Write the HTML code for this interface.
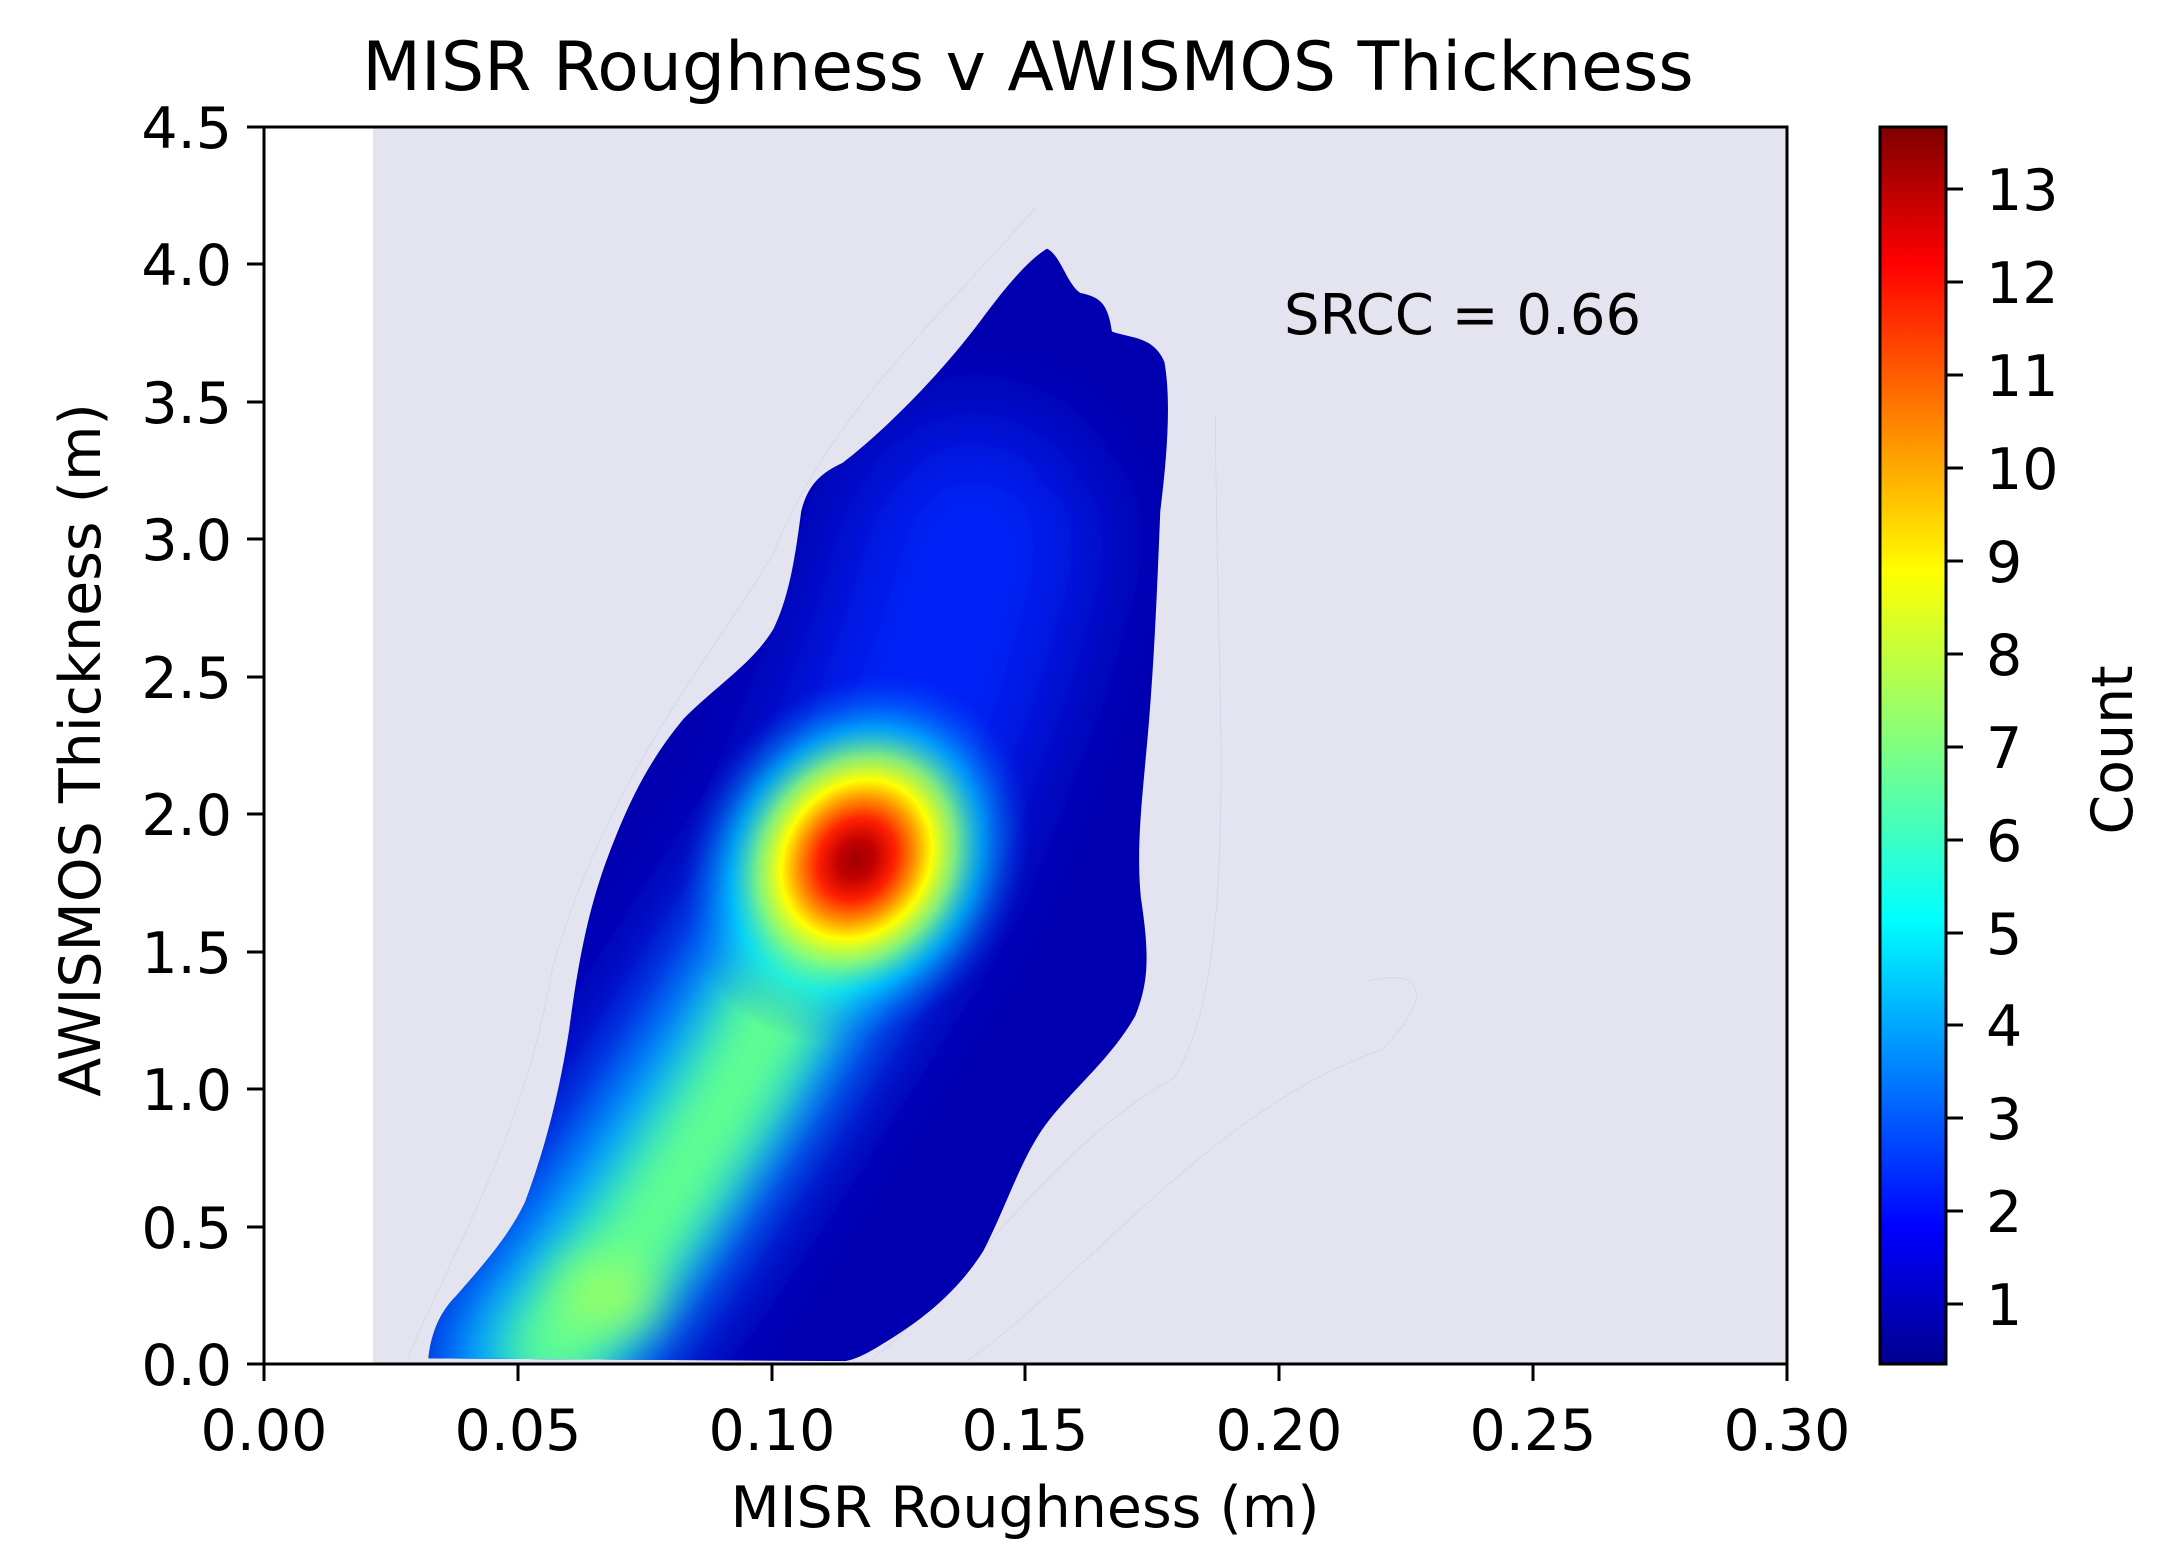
<!DOCTYPE html>
<html><head><meta charset="utf-8"><style>
html,body{margin:0;padding:0;background:#fff}
svg{display:block}
text{font-family:"DejaVu Sans","Liberation Sans",sans-serif;fill:#000}
</style></head><body>
<svg width="2166" height="1566" viewBox="0 0 2166 1566" xmlns="http://www.w3.org/2000/svg">
<defs>
<clipPath id="blob"><path d="M310,983 C312,965 318,950 330,938 C350,915 368,895 380,870 C395,830 405,790 412,745 C418,700 425,660 440,620 C455,580 470,550 495,520 C520,495 545,480 560,455 C572,430 576,400 580,370 C585,350 595,342 610,335 C640,312 680,272 710,232 C730,205 745,188 758,180 C768,185 772,205 782,212 C795,215 802,218 805,240 C818,245 835,243 843,262 C848,290 845,330 840,370 C838,420 836,470 832,520 C828,570 822,610 826,650 C832,690 832,710 822,735 C805,765 780,785 760,810 C740,835 730,870 712,905 C690,940 660,960 635,975 C625,981 618,984 612,985 Z"/></clipPath>
<filter id="b1" filterUnits="userSpaceOnUse" x="0" y="0" width="1300" height="1100"><feGaussianBlur stdDeviation="35"/></filter>
<filter id="b2" filterUnits="userSpaceOnUse" x="0" y="0" width="1300" height="1100"><feGaussianBlur stdDeviation="26"/></filter>
<filter id="b3" filterUnits="userSpaceOnUse" x="0" y="0" width="1300" height="1100"><feGaussianBlur stdDeviation="18"/></filter>
<radialGradient id="pk">
<stop offset="0" stop-color="#a00000"/>
<stop offset="0.1" stop-color="#c00000"/>
<stop offset="0.22" stop-color="#ff2000"/>
<stop offset="0.33" stop-color="#ff9000"/>
<stop offset="0.43" stop-color="#ffff00"/>
<stop offset="0.56" stop-color="#90ff70" stop-opacity="0.9"/>
<stop offset="0.72" stop-color="#00e8ff" stop-opacity="0.6"/>
<stop offset="1" stop-color="#0060ff" stop-opacity="0"/>
</radialGradient>
<linearGradient id="cb" x1="0" y1="1" x2="0" y2="0">
<stop offset="0" stop-color="#00008f"/>
<stop offset="0.11" stop-color="#0000ff"/>
<stop offset="0.36" stop-color="#00ffff"/>
<stop offset="0.5" stop-color="#80ff80"/>
<stop offset="0.64" stop-color="#ffff00"/>
<stop offset="0.89" stop-color="#ff0000"/>
<stop offset="1" stop-color="#800000"/>
</linearGradient>
</defs>
<rect x="373" y="127" width="1414" height="1237" fill="#e4e4f0"/>
<g transform="translate(0.23,-0.14) scale(1.381,1.382)">
<g fill="none" stroke="#d4d4e8" stroke-width="0.6">
<path d="M295,983 C330,900 380,820 400,700 440,560 520,470 560,400 600,300 680,230 750,150"/>
<path d="M630,985 C700,930 760,830 850,780 900,700 880,500 880,300 880,200 890,120"/>
<path d="M700,985 C780,930 880,800 1000,760 1040,720 1030,700 990,710"/>
</g>
<g clip-path="url(#blob)">
<rect x="280" y="150" width="600" height="850" fill="#0000b0"/>
<path d="M380,985 L470,860 560,720 625,620 680,480 705,390" stroke="#0024f8" stroke-width="170" fill="none" stroke-linecap="round" filter="url(#b1)"/>
<path d="M385,985 L460,880 540,760 610,640" stroke="#00b8ff" stroke-width="130" fill="none" stroke-linecap="round" filter="url(#b2)"/>
<path d="M400,975 L470,885 530,790 575,705" stroke="#60ff90" stroke-width="70" fill="none" stroke-linecap="round" filter="url(#b3)"/>
<ellipse cx="440" cy="938" rx="35" ry="22" fill="#a0ff60" filter="url(#b3)"/>
<ellipse cx="620" cy="622" rx="120" ry="140" fill="url(#pk)" transform="rotate(35 620 622)"/>
</g>
</g>
<rect x="264" y="127" width="1523" height="1237" fill="none" stroke="#000" stroke-width="3"/>
<g stroke="#000" stroke-width="3">
<line x1="264" y1="1364" x2="264" y2="1381"/><line x1="518" y1="1364" x2="518" y2="1381"/><line x1="772" y1="1364" x2="772" y2="1381"/><line x1="1025" y1="1364" x2="1025" y2="1381"/><line x1="1279" y1="1364" x2="1279" y2="1381"/><line x1="1533" y1="1364" x2="1533" y2="1381"/><line x1="1787" y1="1364" x2="1787" y2="1381"/>
<line x1="247" y1="1364" x2="264" y2="1364"/><line x1="247" y1="1227" x2="264" y2="1227"/><line x1="247" y1="1089" x2="264" y2="1089"/><line x1="247" y1="952" x2="264" y2="952"/><line x1="247" y1="814" x2="264" y2="814"/><line x1="247" y1="677" x2="264" y2="677"/><line x1="247" y1="539" x2="264" y2="539"/><line x1="247" y1="402" x2="264" y2="402"/><line x1="247" y1="264" x2="264" y2="264"/><line x1="247" y1="127" x2="264" y2="127"/>
</g>
<g font-size="57" text-anchor="middle">
<text x="264" y="1450">0.00</text><text x="518" y="1450">0.05</text><text x="772" y="1450">0.10</text><text x="1025" y="1450">0.15</text><text x="1279" y="1450">0.20</text><text x="1533" y="1450">0.25</text><text x="1787" y="1450">0.30</text>
</g>
<g font-size="57" text-anchor="end">
<text x="232" y="1385">0.0</text><text x="232" y="1248">0.5</text><text x="232" y="1110">1.0</text><text x="232" y="973">1.5</text><text x="232" y="835">2.0</text><text x="232" y="698">2.5</text><text x="232" y="560">3.0</text><text x="232" y="423">3.5</text><text x="232" y="285">4.0</text><text x="232" y="148">4.5</text>
</g>
<text x="1028" y="90" font-size="68" text-anchor="middle">MISR Roughness v AWISMOS Thickness</text>
<text x="1025" y="1527" font-size="57" text-anchor="middle">MISR Roughness (m)</text>
<text transform="translate(100,750) rotate(-90)" font-size="57" text-anchor="middle">AWISMOS Thickness (m)</text>
<text x="1284" y="334" font-size="56">SRCC = 0.66</text>
<rect x="1880" y="127" width="66" height="1237" fill="url(#cb)" stroke="#000" stroke-width="3"/>
<g stroke="#000" stroke-width="3">
<line x1="1946" y1="1304" x2="1963" y2="1304"/><line x1="1946" y1="1211" x2="1963" y2="1211"/><line x1="1946" y1="1118" x2="1963" y2="1118"/><line x1="1946" y1="1025" x2="1963" y2="1025"/><line x1="1946" y1="933" x2="1963" y2="933"/><line x1="1946" y1="840" x2="1963" y2="840"/><line x1="1946" y1="747" x2="1963" y2="747"/><line x1="1946" y1="654" x2="1963" y2="654"/><line x1="1946" y1="561" x2="1963" y2="561"/><line x1="1946" y1="468" x2="1963" y2="468"/><line x1="1946" y1="375" x2="1963" y2="375"/><line x1="1946" y1="282" x2="1963" y2="282"/><line x1="1946" y1="189" x2="1963" y2="189"/>
</g>
<g font-size="57">
<text x="1986" y="1325">1</text><text x="1986" y="1232">2</text><text x="1986" y="1139">3</text><text x="1986" y="1046">4</text><text x="1986" y="954">5</text><text x="1986" y="861">6</text><text x="1986" y="768">7</text><text x="1986" y="675">8</text><text x="1986" y="582">9</text><text x="1986" y="489">10</text><text x="1986" y="396">11</text><text x="1986" y="303">12</text><text x="1986" y="210">13</text>
</g>
<text transform="translate(2132,750) rotate(-90)" font-size="57" text-anchor="middle">Count</text>
</svg>
</body></html>
